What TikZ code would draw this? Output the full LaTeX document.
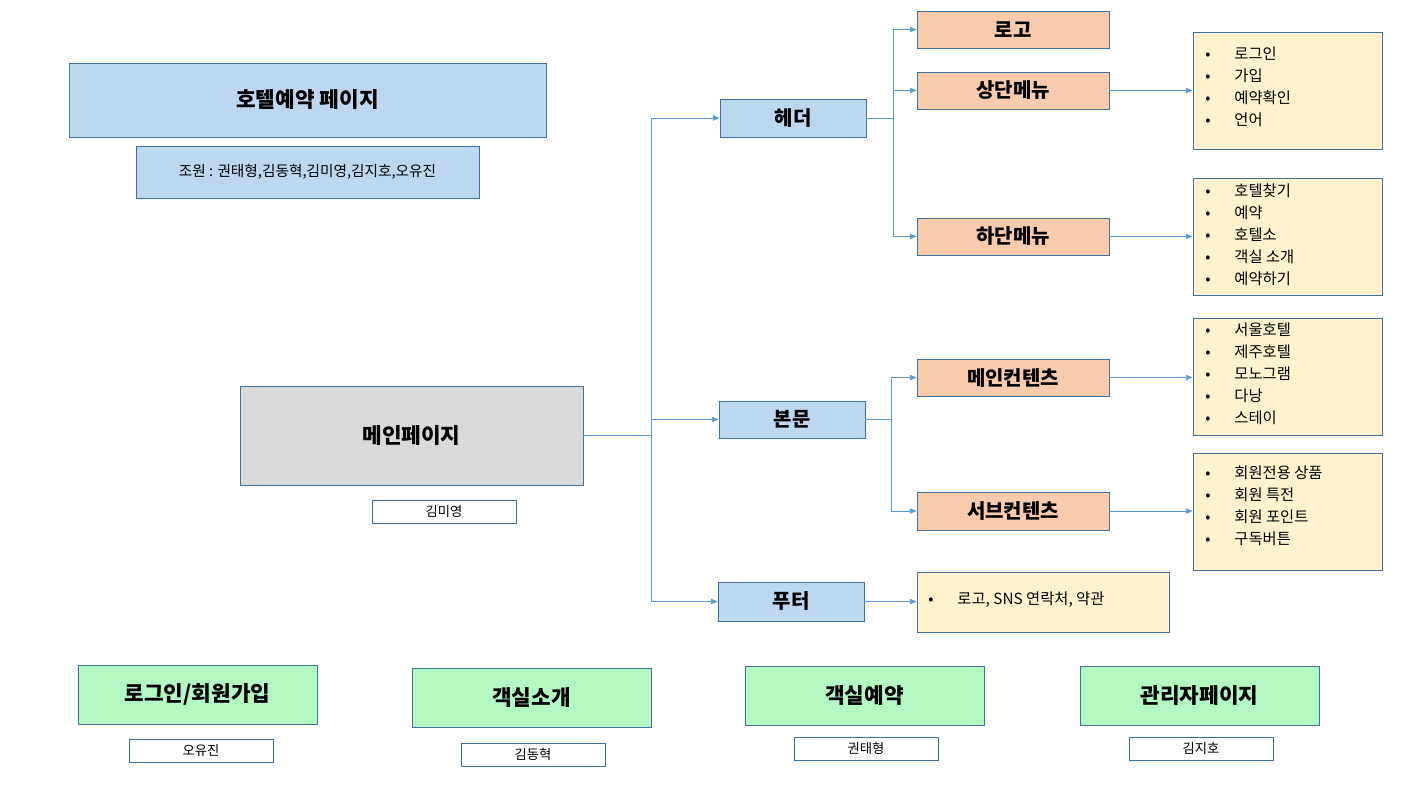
\documentclass[tikz,border=0pt]{standalone}
\usepackage{fontspec}
\setmainfont{Noto Sans CJK KR}
\usetikzlibrary{arrows.meta}
\definecolor{bl}{HTML}{BDD7EE}
\definecolor{gr}{HTML}{D9D9D9}
\definecolor{orr}{HTML}{F8CBAD}
\definecolor{ye}{HTML}{FFF2CC}
\definecolor{gn}{HTML}{B3F7C3}
\definecolor{ln}{HTML}{5B9BD5}
\definecolor{bd}{HTML}{41719C}
\begin{document}
\begin{tikzpicture}[x=0.75pt,y=-0.75pt,
 box/.style={draw=bd,line width=0.6pt,inner sep=0pt},
 arr/.style={draw=ln,line width=0.6pt,-{Triangle[length=5pt,width=4pt]}},
 ln/.style={draw=ln,line width=0.6pt},
 lst/.style={anchor=north west,align=left,font=\fontsize{11.5}{16.5}\selectfont,inner sep=0pt}]
\useasboundingbox[fill=white] (0,0) rectangle (1413,793);
\newcommand\bx[6]{\node[box,fill=#6,minimum width=#4*0.75pt-#2*0.75pt,minimum height=#5*0.75pt-#3*0.75pt] (#1) at ({(#2+#4)/2},{(#3+#5)/2}) {};}
% title
\bx{t}{69}{63}{546}{137}{bl}\node[font=\fontsize{16}{16}\selectfont\bfseries] at (t) {호텔예약 페이지};
\bx{m}{136}{146}{479}{198}{bl}\node[font=\fontsize{11}{11}\selectfont] at (m) {조원 : 권태형,김동혁,김미영,김지호,오유진};
\bx{mp}{240}{386}{583}{485}{gr}\node[font=\fontsize{16}{16}\selectfont\bfseries] at (mp) {메인페이지};
\bx{mpl}{372}{500}{516}{523}{white}\node[font=\fontsize{10}{10}\selectfont] at (mpl) {김미영};
% level 2
\bx{hd}{720}{99}{866}{137}{bl}\node[font=\fontsize{15}{15}\selectfont\bfseries] at (hd) {헤더};
\bx{bm}{719}{401}{865}{438}{bl}\node[font=\fontsize{15}{15}\selectfont\bfseries] at (bm) {본문};
\bx{ft}{718}{582}{864}{621}{bl}\node[font=\fontsize{15}{15}\selectfont\bfseries] at (ft) {푸터};
% level 3
\bx{lg}{917}{11}{1109}{48}{orr}\node[font=\fontsize{15}{15}\selectfont\bfseries] at (lg) {로고};
\bx{sm}{917}{72}{1109}{109}{orr}\node[font=\fontsize{15}{15}\selectfont\bfseries] at (sm) {상단메뉴};
\bx{hm}{917}{218}{1109}{255}{orr}\node[font=\fontsize{15}{15}\selectfont\bfseries] at (hm) {하단메뉴};
\bx{mc}{917}{359}{1109}{396}{orr}\node[font=\fontsize{15}{15}\selectfont\bfseries] at (mc) {메인컨텐츠};
\bx{sc}{917}{492}{1109}{530}{orr}\node[font=\fontsize{15}{15}\selectfont\bfseries] at (sc) {서브컨텐츠};
% lists
\bx{l1}{1193}{32}{1382}{149}{ye}
\node[lst] at (1205,47) {•\hspace{18pt}로그인\\•\hspace{18pt}가입\\•\hspace{18pt}예약확인\\•\hspace{18pt}언어};
\bx{l2}{1193}{178}{1382}{295}{ye}
\node[lst] at (1205,183) {•\hspace{18pt}호텔찾기\\•\hspace{18pt}예약\\•\hspace{18pt}호텔소\\•\hspace{18pt}객실 소개\\•\hspace{18pt}예약하기};
\bx{l3}{1193}{318}{1382}{435}{ye}
\node[lst] at (1205,323) {•\hspace{18pt}서울호텔\\•\hspace{18pt}제주호텔\\•\hspace{18pt}모노그램\\•\hspace{18pt}다낭\\•\hspace{18pt}스테이};
\bx{l4}{1193}{453}{1382}{570}{ye}
\node[lst] at (1205,466) {•\hspace{18pt}회원전용 상품\\•\hspace{18pt}회원 특전\\•\hspace{18pt}회원 포인트\\•\hspace{18pt}구독버튼};
\bx{l5}{917}{572}{1169}{632}{ye}
\node[lst] at (928,592) {•\hspace{18pt}로고, SNS 연락처, 약관};
% bottom
\bx{b1}{78}{665}{317}{724}{gn}\node[font=\fontsize{16}{16}\selectfont\bfseries] at (b1) {로그인/회원가입};
\bx{b2}{412}{668}{651}{727}{gn}\node[font=\fontsize{16}{16}\selectfont\bfseries] at (b2) {객실소개};
\bx{b3}{745}{666}{984}{725}{gn}\node[font=\fontsize{16}{16}\selectfont\bfseries] at (b3) {객실예약};
\bx{b4}{1080}{666}{1319}{725}{gn}\node[font=\fontsize{16}{16}\selectfont\bfseries] at (b4) {관리자페이지};
\bx{c1}{129}{739}{273}{762}{white}\node[font=\fontsize{10}{10}\selectfont] at (c1) {오유진};
\bx{c2}{461}{743}{605}{766}{white}\node[font=\fontsize{10}{10}\selectfont] at (c2) {김동혁};
\bx{c3}{794}{737}{938}{760}{white}\node[font=\fontsize{10}{10}\selectfont] at (c3) {권태형};
\bx{c4}{1129}{737}{1273}{760}{white}\node[font=\fontsize{10}{10}\selectfont] at (c4) {김지호};
% connectors
\coordinate (j1) at (mp.east -| 651,0);
\coordinate (j2) at (hd.east -| 893,0);
\coordinate (j3) at (bm.east -| 891,0);
\draw[ln] (mp.east) -- (j1);
\draw[arr] (j1) |- (hd.west);
\draw[arr] (j1) |- (bm.west);
\draw[arr] (j1) |- (ft.west);
\draw[ln] (hd.east) -- (j2);
\draw[arr] (j2) |- (lg.west);
\draw[arr] (j2) |- (sm.west);
\draw[arr] (j2) |- (hm.west);
\draw[ln] (bm.east) -- (j3);
\draw[arr] (j3) |- (mc.west);
\draw[arr] (j3) |- (sc.west);
\draw[arr] (sm.east) -- (sm.east -| l1.west);
\draw[arr] (hm.east) -- (hm.east -| l2.west);
\draw[arr] (mc.east) -- (mc.east -| l3.west);
\draw[arr] (sc.east) -- (sc.east -| l4.west);
\draw[arr] (ft.east) -- (ft.east -| l5.west);
\end{tikzpicture}
\end{document}
